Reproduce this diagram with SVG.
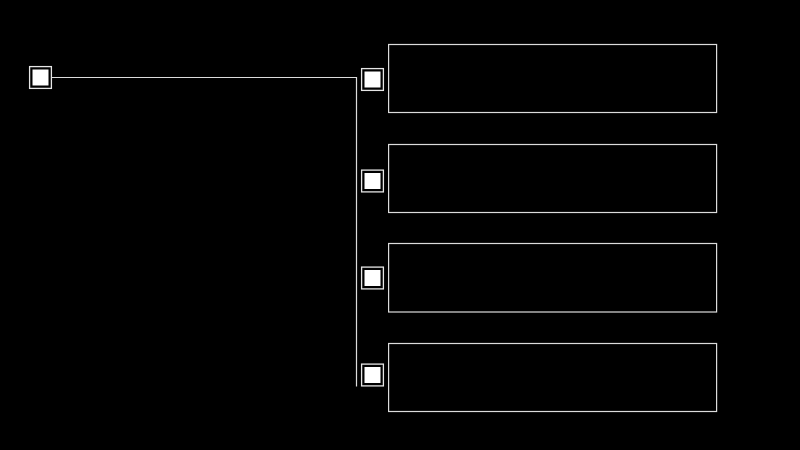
<svg xmlns="http://www.w3.org/2000/svg" width="800" height="450" viewBox="0 0 800 450">
<style>
.frame{fill:none;stroke:#e6e6e6;stroke-width:1.3}
.dot{fill:#fff}
.box{fill:none;stroke:#dcdcdc;stroke-width:1.2}
.wire{fill:none;stroke:#dcdcdc;stroke-width:1.2}
</style>
<rect width="800" height="450" fill="#000"/>
<g id="connectors">
<path class="wire" d="M51.5 77.5 H356.5 V386.5"/>
</g>
<g id="root">
<rect class="frame" x="29.6" y="66.6" width="21.8" height="21.8"/>
<rect class="dot" x="32.5" y="69.5" width="16" height="16"/>
</g>
<g id="marker1">
<rect class="frame" x="361.6" y="68.6" width="21.8" height="21.8"/>
<rect class="dot" x="364.5" y="71.5" width="16" height="16"/>
</g>
<g id="marker2">
<rect class="frame" x="361.6" y="170.1" width="21.8" height="21.8"/>
<rect class="dot" x="364.5" y="173" width="16" height="16"/>
</g>
<g id="marker3">
<rect class="frame" x="361.6" y="267.1" width="21.8" height="21.8"/>
<rect class="dot" x="364.5" y="270" width="16" height="16"/>
</g>
<g id="marker4">
<rect class="frame" x="361.6" y="364.1" width="21.8" height="21.8"/>
<rect class="dot" x="364.5" y="367" width="16" height="16"/>
</g>
<g id="box1"><rect class="box" x="388.6" y="44.5" width="328" height="68"/></g>
<g id="box2"><rect class="box" x="388.6" y="144.5" width="328" height="68"/></g>
<g id="box3"><rect class="box" x="388.6" y="243.5" width="328" height="68.5"/></g>
<g id="box4"><rect class="box" x="388.6" y="343.5" width="328" height="68"/></g>
</svg>
